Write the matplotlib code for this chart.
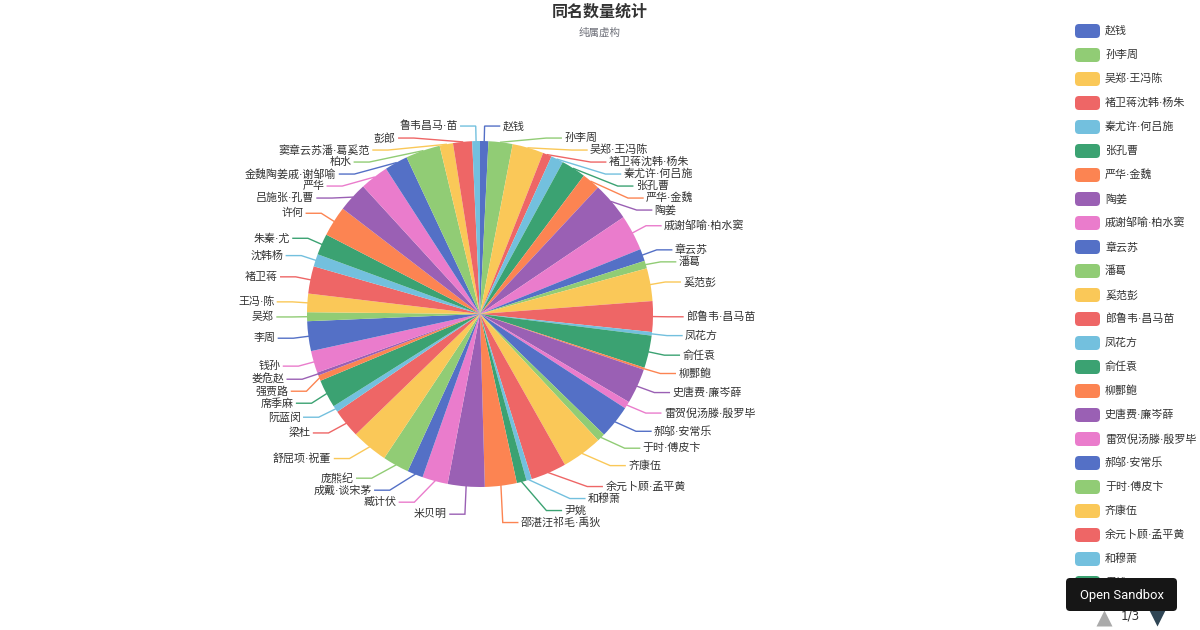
import matplotlib
matplotlib.use("Agg")
import matplotlib.pyplot as plt
from matplotlib.patches import FancyBboxPatch
import numpy as np

# narrow latin/punctuation from DejaVu, CJK glyphs fall back to Noto
plt.rcParams['font.family'] = ['DejaVu Sans', 'Noto Sans CJK SC']

title = '同名数量统计'
subtitle = '纯属虚构'

names = ['赵钱', '孙李周', '吴郑·王冯陈', '褚卫蒋沈韩·杨朱', '秦尤许·何吕施', '张孔曹',
         '严华·金魏', '陶姜', '戚谢邹喻·柏水窦', '章云苏', '潘葛', '奚范彭',
         '郎鲁韦·昌马苗', '凤花方', '俞任袁', '柳酆鲍', '史唐费·廉岑薛', '雷贺倪汤滕·殷罗毕',
         '郝邬·安常乐', '于时·傅皮卞', '齐康伍', '余元卜顾·孟平黄', '和穆萧', '尹姚',
         '邵湛汪祁毛·禹狄', '米贝明', '臧计伏', '成戴·谈宋茅', '庞熊纪', '舒屈项·祝董',
         '梁杜', '阮蓝闵', '席季麻', '强贾路', '娄危赵', '钱孙',
         '李周', '吴郑', '王冯·陈', '褚卫蒋', '沈韩杨', '朱秦·尤',
         '许何', '吕施张·孔曹', '严华', '金魏陶姜戚·谢邹喻', '柏水', '窦章云苏潘·葛奚范',
         '彭郎', '鲁韦昌马·苗']

values = [2800, 8100, 10500, 3000, 4200, 8300, 6100, 13000, 12000, 4100,
          2600, 11000, 10300, 1200, 10900, 700, 11800, 2400, 11200, 2700,
          13700, 12000, 1800, 3300, 10700, 12400, 8600, 5300, 8900, 12300,
          9700, 2200, 9500, 1900, 1000, 7400, 10000, 3000, 6200, 9200,
          4200, 7100, 10200, 10000, 9600, 7800, 11600, 4500, 6400, 2600]

palette = ['#5470c6', '#91cc75', '#fac858', '#ee6666', '#73c0de',
           '#3ba272', '#fc8452', '#9a60b4', '#ea7ccc']
colors = [palette[i % len(palette)] for i in range(len(values))]

W, H = 1200, 630
PT = 0.72  # px -> pt at dpi 100
FS = 11 * PT


def Y(py):
    return H - py


fig = plt.figure(figsize=(12, 6.3), dpi=100)
ax = fig.add_axes([0, 0, 1, 1])

cx, cy, r = 480, 314, 173
ax.pie(values, colors=colors, startangle=90, counterclock=False,
       center=(cx, Y(cy)), radius=r, wedgeprops=dict(linewidth=0))

# outside labels with leader lines, laid out like echarts does
len1, len2, gap = 15, 15, 12
R1 = r + len1
tot = float(sum(values))
starts = np.concatenate([[0], np.cumsum(values)[:-1]]) / tot * 360
mids = np.radians(starts + np.array(values) / tot * 180)

items = []
for i, a in enumerate(mids):
    side = 1 if np.sin(a) >= 0 else -1
    items.append(dict(i=i, side=side,
                      sx=cx + r * np.sin(a), sy=cy - r * np.cos(a),
                      ey=cy - R1 * np.cos(a), dx0=abs(R1 * np.sin(a))))

for side in (1, -1):
    grp = sorted([it for it in items if it['side'] == side], key=lambda d: d['ey'])
    for k in range(1, len(grp)):
        grp[k]['ey'] = max(grp[k]['ey'], grp[k - 1]['ey'] + gap)
    for semi in ([it for it in grp if it['ey'] < cy], [it for it in grp if it['ey'] >= cy]):
        if not semi:
            continue
        far = max(semi, key=lambda d: abs(d['ey'] - cy))
        dy = abs(far['ey'] - cy)
        rB = dy / np.sqrt(1 - (far['dx0'] / R1) ** 2) if far['dx0'] < R1 else R1
        rB = max(rB, dy, 1e-6)
        for it in semi:
            d = abs(it['ey'] - cy)
            it['dx'] = np.sqrt(max(1 - d * d / (rB * rB), 0)) * R1

for it in items:
    s = it['side']
    ex = cx + s * it['dx']
    lx = ex + s * len2
    c = colors[it['i']]
    ax.plot([it['sx'], ex, lx], [Y(it['sy']), Y(it['ey']), Y(it['ey'])],
            color=c, lw=1, solid_joinstyle='miter', zorder=3)
    ax.text(lx + s * 3, Y(it['ey']), names[it['i']], fontsize=FS,
            color='#333333', ha='left' if s > 0 else 'right', va='center', zorder=4)

# title
ax.text(600, Y(12), title, fontsize=16 * PT, fontweight='bold', color='#333333',
        ha='center', va='center')
ax.text(600, Y(33), subtitle, fontsize=10.5 * PT, color='#6e7079',
        ha='center', va='center')

# scroll legend (page 1 of 3)
per_page = 24
for k in range(per_page):
    py = 31 + 24 * k
    ax.add_patch(FancyBboxPatch((1075, Y(py) - 7), 25, 14,
                                boxstyle='round,pad=0,rounding_size=4',
                                fc=colors[k], ec='none', zorder=5))
    ax.text(1105, Y(py), names[k], fontsize=FS, color='#333333',
            ha='left', va='center', zorder=5)

ax.plot([1104], [Y(618)], marker='^', ms=11, color='#aaaaaa', mec='none', zorder=5)
ax.plot([1157], [Y(618)], marker='v', ms=11, color='#2f4554', mec='none', zorder=5)
ax.text(1130, Y(616), '1/3', fontsize=12 * PT, color='#333333',
        ha='center', va='center', zorder=5)

# sandbox button overlay
ax.add_patch(FancyBboxPatch((1066, Y(611)), 111, 33,
                            boxstyle='round,pad=0,rounding_size=4',
                            fc='#161616', ec='none', zorder=8))
ax.text(1121.5, Y(595), 'Open Sandbox', fontsize=13 * PT, color='white',
        ha='center', va='center', family='Roboto', zorder=9)

ax.set_xlim(0, W)
ax.set_ylim(0, H)
ax.set_aspect('equal')
ax.axis('off')

fig.savefig('out.png', dpi=100, facecolor='white')
